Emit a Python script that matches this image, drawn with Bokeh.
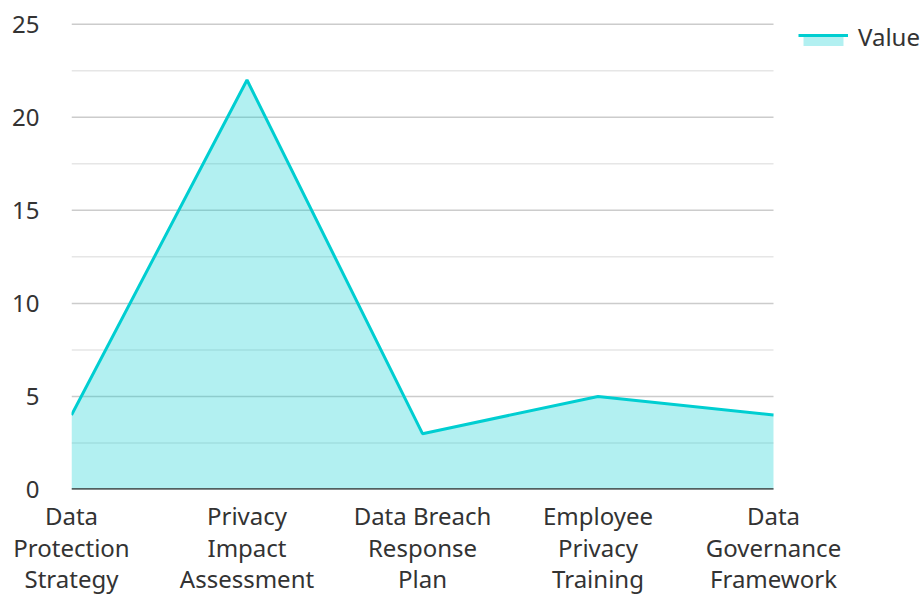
from bokeh.plotting import figure
from bokeh.models import FixedTicker, Legend, LegendItem, Range1d, LinearAxis
from bokeh.embed import file_html
from bokeh.resources import INLINE

categories = ["Data Protection Strategy", "Privacy Impact Assessment", "Data Breach Response Plan",
              "Employee Privacy Training", "Data Governance Framework"]
tick_labels = ["Data\nProtection\nStrategy", "Privacy\nImpact\nAssessment", "Data Breach\nResponse\nPlan",
               "Employee\nPrivacy\nTraining", "Data\nGovernance\nFramework"]
series_name = "Value"
values = [4, 22, 3, 5, 4]
y_ticks = [0, 5, 10, 15, 20, 25]
y_minor = [2.5, 7.5, 12.5, 17.5, 22.5]

xs = list(range(len(categories)))
FONT = "Noto Sans"
LINE = "#00CED1"
TXT = "#333333"
FS = "24px"

W, H = 923, 597
LEFT, TOP, BOTTOM = 71, 12, 108
PLOT_RIGHT = 773          # pixel where the last category sits
PLOT_TOP = 23.7           # pixel where the top tick sits
frame_w = W - LEFT
frame_h = H - TOP - BOTTOM
frame_bottom = H - BOTTOM
px_per_cat = (PLOT_RIGHT - LEFT) / (len(xs) - 1)
x_end = frame_w / px_per_cat
y_end = y_ticks[-1] * (frame_bottom - TOP) / (frame_bottom - PLOT_TOP)

p = figure(width=W, height=H, output_backend="svg", toolbar_location=None,
           x_range=Range1d(0, x_end), y_range=Range1d(0, y_end),
           min_border_left=LEFT, min_border_top=TOP, min_border_bottom=BOTTOM, min_border_right=0)
p.outline_line_color = None
p.background_fill_color = "white"
p.xgrid.grid_line_color = None
p.ygrid.grid_line_color = None

# horizontal grid lines limited to the category span
n_maj, n_min = len(y_ticks), len(y_minor)
p.segment(x0=[xs[0]] * n_min, x1=[xs[-1]] * n_min, y0=y_minor, y1=y_minor,
          line_color="#e6e6e6", line_width=1.5)
p.segment(x0=[xs[0]] * n_maj, x1=[xs[-1]] * n_maj, y0=y_ticks, y1=y_ticks,
          line_color="#cccccc", line_width=1.5)

area = p.varea(x=xs, y1=[0] * len(xs), y2=values, fill_color=LINE, fill_alpha=0.3)
line = p.line(x=xs, y=values, line_color=LINE, line_width=3)
ghost = p.line(x=[], y=[], line_alpha=0)

# baseline (axis line) limited to the category span
p.segment(x0=[xs[0]], x1=[xs[-1]], y0=[0], y1=[0], line_color="#333333", line_width=2.5)

# x axis: one axis per text line so that line spacing can be controlled
line_parts = [t.split("\n") for t in tick_labels]
n_lines = max(len(parts) for parts in line_parts)

axes = [p.xaxis[0]]
for _ in range(n_lines - 1):
    ax = LinearAxis()
    p.add_layout(ax, "below")
    axes.append(ax)

standoffs = [9, -4, -5]
for i, ax in enumerate(axes):
    ax.ticker = FixedTicker(ticks=xs, minor_ticks=[])
    ax.major_label_overrides = {x: (parts[i] if i < len(parts) else "") for x, parts in zip(xs, line_parts)}
    ax.major_tick_line_color = None
    ax.minor_tick_line_color = None
    ax.major_tick_out = 0
    ax.major_tick_in = 0
    ax.major_label_text_font = FONT
    ax.major_label_text_font_size = FS
    ax.major_label_text_color = TXT
    ax.major_label_standoff = standoffs[i]
    ax.axis_line_color = None

p.yaxis.ticker = FixedTicker(ticks=y_ticks, minor_ticks=y_minor)
p.yaxis.axis_line_color = None
p.yaxis.major_tick_line_color = None
p.yaxis.minor_tick_line_color = None
p.yaxis.major_label_text_font = FONT
p.yaxis.major_label_text_font_size = FS
p.yaxis.major_label_text_color = TXT
p.yaxis.major_label_standoff = 26

LEG_X = PLOT_RIGHT + 25 - LEFT

def y_for(top_px, h):
    return frame_h - (top_px - TOP) - h

common = dict(border_line_color=None, background_fill_alpha=0, padding=0, margin=0, spacing=0,
              glyph_width=50)

# label text
leg_text = Legend(items=[LegendItem(label=series_name, renderers=[ghost])],
                  location=(LEG_X, y_for(17, 36)),
                  label_text_font=FONT, label_text_font_size=FS, label_text_color=TXT,
                  glyph_height=14, label_standoff=10, **common)
# fill swatch
leg_fill = Legend(items=[LegendItem(label=" ", renderers=[area])],
                  location=(LEG_X, y_for(33, 14)),
                  label_text_font_size="1px", label_height=0, label_width=0, label_standoff=0,
                  glyph_height=14, **common)
# line swatch along the top of the fill
leg_line = Legend(items=[LegendItem(label=" ", renderers=[line])],
                  location=(LEG_X, y_for(33, 4)),
                  label_text_font_size="1px", label_height=0, label_width=0, label_standoff=0,
                  glyph_height=4, **common)
p.add_layout(leg_fill)
p.add_layout(leg_line)
p.add_layout(leg_text)

open("out.html", "w").write(file_html(p, INLINE))
